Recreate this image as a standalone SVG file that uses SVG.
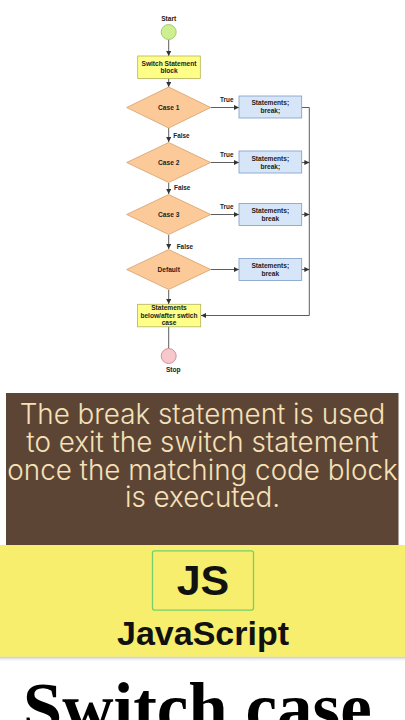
<svg xmlns="http://www.w3.org/2000/svg" width="405" height="720" viewBox="0 0 405 720">
<style>
.ft{font-family:"Liberation Sans",Arial,sans-serif;font-weight:bold;font-size:6.6px;fill:#222;text-anchor:middle}
.lb{font-family:"Liberation Sans",Arial,sans-serif;font-weight:bold;font-size:6.4px;fill:#222}
.dia{fill:#fcca98;stroke:#d3a06c;stroke-width:0.8}
.blue{fill:#d6e6f8;stroke:#7d9cc8;stroke-width:0.8}
.yel{fill:#ffff88;stroke:#b3b35a;stroke-width:0.8}
.con{fill:none;stroke:#333;stroke-width:0.8}
.cap{font-family:Inter,"Noto Sans",sans-serif;font-weight:300;font-size:27.8px;fill:#f6e1b8;text-anchor:middle}
</style>
<defs>
<marker id="ar" viewBox="0 0 6 6" refX="6" refY="3" markerWidth="5" markerHeight="5" orient="auto" markerUnits="userSpaceOnUse">
<path d="M0,0 L6,3 L0,6 Z" fill="#333"/>
</marker>
<linearGradient id="sh" x1="0" y1="0" x2="0" y2="1">
<stop offset="0" stop-color="#999" stop-opacity="0.6"/>
<stop offset="1" stop-color="#fff" stop-opacity="0"/>
</linearGradient>
</defs>
<rect width="405" height="720" fill="#fff"/>

<g id="connectors">
<line class="con" x1="168.7" y1="39.5" x2="168.7" y2="56" marker-end="url(#ar)"/>
<line class="con" x1="168.7" y1="78.5" x2="168.7" y2="87" marker-end="url(#ar)"/>
<line class="con" x1="168.7" y1="128" x2="168.7" y2="142" marker-end="url(#ar)"/>
<line class="con" x1="168.7" y1="183" x2="168.7" y2="194" marker-end="url(#ar)"/>
<line class="con" x1="168.7" y1="235" x2="168.7" y2="249" marker-end="url(#ar)"/>
<line class="con" x1="168.7" y1="290" x2="168.7" y2="304" marker-end="url(#ar)"/>
<line class="con" x1="168.7" y1="327" x2="168.7" y2="348.5"/>
<line class="con" x1="210.7" y1="107.5" x2="239" y2="107.5" marker-end="url(#ar)"/>
<line class="con" x1="210.7" y1="162.5" x2="239" y2="162.5" marker-end="url(#ar)"/>
<line class="con" x1="210.7" y1="214.5" x2="239" y2="214.5" marker-end="url(#ar)"/>
<line class="con" x1="210.7" y1="269.5" x2="239" y2="269.5" marker-end="url(#ar)"/>
<polyline class="con" points="301.7,107.5 309.3,107.5 309.3,315.5 201,315.5" marker-end="url(#ar)"/>
<line class="con" x1="301.7" y1="162.5" x2="309.3" y2="162.5" marker-end="url(#ar)"/>
<line class="con" x1="301.7" y1="214.5" x2="309.3" y2="214.5" marker-end="url(#ar)"/>
<line class="con" x1="301.7" y1="269.5" x2="309.3" y2="269.5" marker-end="url(#ar)"/>
<text class="lb" x="220" y="102">True</text>
<text class="lb" x="220" y="157">True</text>
<text class="lb" x="220" y="209">True</text>
<text class="lb" x="173.3" y="137.5">False</text>
<text class="lb" x="174" y="189.5">False</text>
<text class="lb" x="176.7" y="248.5">False</text>
</g>

<g id="start">
<text class="ft" x="168.7" y="20.5">Start</text>
<circle cx="168.7" cy="32" r="7.5" fill="#cdef8f" stroke="#8fc465" stroke-width="0.8"/>
</g>
<g id="switch">
<rect class="yel" x="137.7" y="56" width="62.6" height="22.5"/>
<text class="ft" x="169" y="65.5">Switch Statement</text>
<text class="ft" x="169" y="73">block</text>
</g>
<g id="case1">
<polygon class="dia" points="168.7,87 210.7,107.5 168.7,128 126.7,107.5"/>
<text class="ft" x="168.7" y="109.8">Case 1</text>
</g>
<g id="stmt1">
<rect class="blue" x="239" y="96" width="62.7" height="22"/>
<text class="ft" x="270.3" y="105.2">Statements;</text>
<text class="ft" x="270.3" y="113.2">break;</text>
</g>
<g id="case2">
<polygon class="dia" points="168.7,142.5 210.7,162.5 168.7,182.5 126.7,162.5"/>
<text class="ft" x="168.7" y="164.8">Case 2</text>
</g>
<g id="stmt2">
<rect class="blue" x="239" y="151" width="62.7" height="22"/>
<text class="ft" x="270.3" y="160.9">Statements;</text>
<text class="ft" x="270.3" y="168.8">break;</text>
</g>
<g id="case3">
<polygon class="dia" points="168.7,194.5 210.7,214.5 168.7,234.5 126.7,214.5"/>
<text class="ft" x="168.7" y="216.8">Case 3</text>
</g>
<g id="stmt3">
<rect class="blue" x="239" y="203.5" width="62.7" height="22"/>
<text class="ft" x="270.3" y="213.2">Statements;</text>
<text class="ft" x="270.3" y="220.9">break</text>
</g>
<g id="default">
<polygon class="dia" points="168.7,249.5 210.7,269.5 168.7,289.5 126.7,269.5"/>
<text class="ft" x="168.7" y="271.8">Default</text>
</g>
<g id="stmt4">
<rect class="blue" x="239" y="258.5" width="62.7" height="22"/>
<text class="ft" x="270.3" y="267.5">Statements;</text>
<text class="ft" x="270.3" y="275.5">break</text>
</g>
<g id="after">
<rect class="yel" x="137.5" y="304.3" width="63.2" height="22.5"/>
<text class="ft" x="169" y="309.6">Statements</text>
<text class="ft" x="169" y="317.5">below/after swtich</text>
<text class="ft" x="169" y="325.4">case</text>
</g>
<g id="stop">
<circle cx="168.7" cy="356" r="7.5" fill="#f7c8cb" stroke="#c97f83" stroke-width="0.8"/>
<text class="ft" x="173.3" y="372">Stop</text>
</g>

<rect x="6" y="393" width="392.5" height="152" fill="#5d4536"/>
<text class="cap" x="202.5" y="424.3">The break statement is used</text>
<text class="cap" x="202.5" y="452">to exit the switch statement</text>
<text class="cap" x="202.5" y="479.5">once the matching code block</text>
<text class="cap" x="202.5" y="507.3">is executed.</text>

<rect x="0" y="656.5" width="405" height="6" fill="url(#sh)"/>
<rect x="0" y="545" width="405" height="111.7" fill="#f6ee6c"/>
<rect x="152.5" y="550.8" width="101" height="59.3" rx="2" fill="none" stroke="#74cf6c" stroke-width="1.3"/>
<text x="203" y="595" font-family="Liberation Sans,Arial,sans-serif" font-weight="bold" font-size="43" fill="#111" text-anchor="middle">JS</text>
<text x="203" y="645" font-family="Liberation Sans,Arial,sans-serif" font-weight="bold" font-size="34" fill="#111" text-anchor="middle">JavaScript</text>
<text x="22.7" y="732" font-family="Liberation Serif,Times New Roman,serif" font-weight="bold" font-size="71" fill="#000">Switch case</text>
</svg>
